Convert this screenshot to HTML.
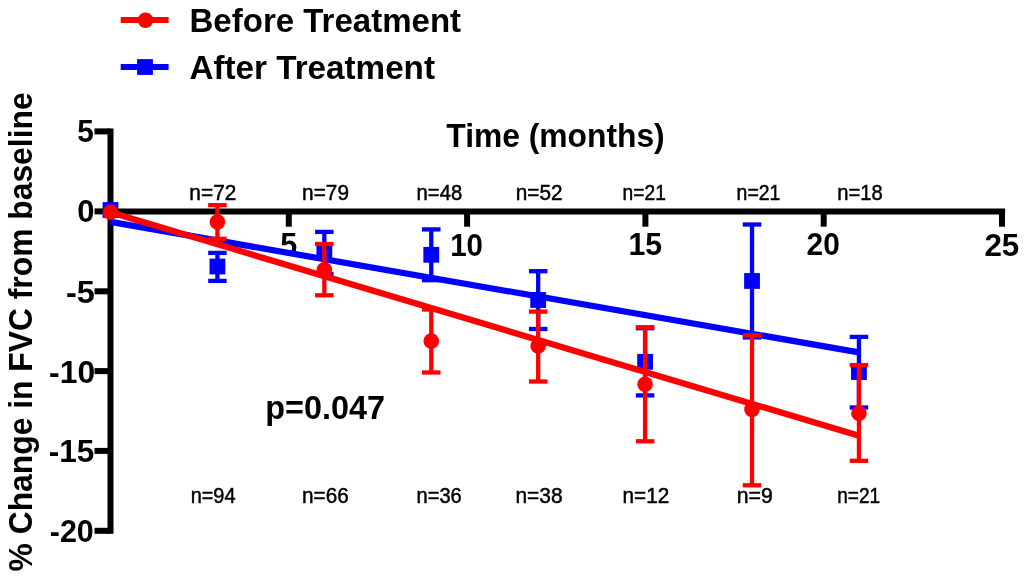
<!DOCTYPE html><html><head><meta charset="utf-8"><style>html,body{margin:0;padding:0;background:#fff;}svg{display:block;}</style></head><body>
<svg width="1024" height="580" viewBox="0 0 1024 580">
<rect width="1024" height="580" fill="#fff"/>
<line x1="120.7" y1="20" x2="168.6" y2="20" stroke="#ff0000" stroke-width="6"/>
<circle cx="145.5" cy="20.2" r="7.8" fill="#ff0000"/>
<line x1="120.7" y1="67.1" x2="168.6" y2="67.1" stroke="#0000ff" stroke-width="6"/>
<rect x="137.1" y="59.1" width="15.8" height="15.8" fill="#0000ff"/>
<line x1="110.5" y1="128.4" x2="110.5" y2="533.8" stroke="#000" stroke-width="6"/>
<line x1="94.5" y1="131.4" x2="110.5" y2="131.4" stroke="#000" stroke-width="6"/>
<line x1="94.5" y1="211.4" x2="110.5" y2="211.4" stroke="#000" stroke-width="6"/>
<line x1="94.5" y1="291.3" x2="110.5" y2="291.3" stroke="#000" stroke-width="6"/>
<line x1="94.5" y1="371.1" x2="110.5" y2="371.1" stroke="#000" stroke-width="6"/>
<line x1="94.5" y1="450.9" x2="110.5" y2="450.9" stroke="#000" stroke-width="6"/>
<line x1="94.5" y1="530.8" x2="110.5" y2="530.8" stroke="#000" stroke-width="6"/>
<text x="189.53" y="31.94" style="font-family:'Liberation Sans',Arial,Helvetica,sans-serif;font-size:33.2px;font-weight:bold;" textLength="271.56" lengthAdjust="spacingAndGlyphs">Before Treatment</text>
<text x="189.49" y="78.70" style="font-family:'Liberation Sans',Arial,Helvetica,sans-serif;font-size:33.2px;font-weight:bold;" textLength="245.48" lengthAdjust="spacingAndGlyphs">After Treatment</text>
<text x="446.34" y="146.70" style="font-family:'Liberation Sans',Arial,Helvetica,sans-serif;font-size:33.2px;font-weight:bold;" textLength="218.38" lengthAdjust="spacingAndGlyphs">Time (months)</text>
<text x="265.26" y="418.70" style="font-family:'Liberation Sans',Arial,Helvetica,sans-serif;font-size:32.5px;font-weight:bold;" textLength="119.81" lengthAdjust="spacingAndGlyphs">p=0.047</text>
<text x="189.35" y="200.00" style="font-family:'Liberation Sans',Arial,Helvetica,sans-serif;font-size:22.8px;" textLength="47.02" lengthAdjust="spacingAndGlyphs" stroke="#000" stroke-width="0.5">n=72</text>
<text x="190.66" y="503.00" style="font-family:'Liberation Sans',Arial,Helvetica,sans-serif;font-size:22.8px;" textLength="44.83" lengthAdjust="spacingAndGlyphs" stroke="#000" stroke-width="0.5">n=94</text>
<text x="302.12" y="200.00" style="font-family:'Liberation Sans',Arial,Helvetica,sans-serif;font-size:22.8px;" textLength="46.84" lengthAdjust="spacingAndGlyphs" stroke="#000" stroke-width="0.5">n=79</text>
<text x="302.09" y="503.00" style="font-family:'Liberation Sans',Arial,Helvetica,sans-serif;font-size:22.8px;" textLength="46.61" lengthAdjust="spacingAndGlyphs" stroke="#000" stroke-width="0.5">n=66</text>
<text x="416.60" y="200.00" style="font-family:'Liberation Sans',Arial,Helvetica,sans-serif;font-size:22.8px;" textLength="45.58" lengthAdjust="spacingAndGlyphs" stroke="#000" stroke-width="0.5">n=48</text>
<text x="416.57" y="503.00" style="font-family:'Liberation Sans',Arial,Helvetica,sans-serif;font-size:22.8px;" textLength="45.21" lengthAdjust="spacingAndGlyphs" stroke="#000" stroke-width="0.5">n=36</text>
<text x="515.83" y="200.00" style="font-family:'Liberation Sans',Arial,Helvetica,sans-serif;font-size:22.8px;" textLength="46.75" lengthAdjust="spacingAndGlyphs" stroke="#000" stroke-width="0.5">n=52</text>
<text x="515.41" y="503.00" style="font-family:'Liberation Sans',Arial,Helvetica,sans-serif;font-size:22.8px;" textLength="47.15" lengthAdjust="spacingAndGlyphs" stroke="#000" stroke-width="0.5">n=38</text>
<text x="622.62" y="200.00" style="font-family:'Liberation Sans',Arial,Helvetica,sans-serif;font-size:22.8px;" textLength="43.24" lengthAdjust="spacingAndGlyphs" stroke="#000" stroke-width="0.5">n=21</text>
<text x="622.61" y="503.00" style="font-family:'Liberation Sans',Arial,Helvetica,sans-serif;font-size:22.8px;" textLength="46.54" lengthAdjust="spacingAndGlyphs" stroke="#000" stroke-width="0.5">n=12</text>
<text x="736.62" y="200.00" style="font-family:'Liberation Sans',Arial,Helvetica,sans-serif;font-size:22.8px;" textLength="43.79" lengthAdjust="spacingAndGlyphs" stroke="#000" stroke-width="0.5">n=21</text>
<text x="736.69" y="503.00" style="font-family:'Liberation Sans',Arial,Helvetica,sans-serif;font-size:22.8px;" textLength="36.07" lengthAdjust="spacingAndGlyphs" stroke="#000" stroke-width="0.5">n=9</text>
<text x="837.18" y="200.00" style="font-family:'Liberation Sans',Arial,Helvetica,sans-serif;font-size:22.8px;" textLength="45.46" lengthAdjust="spacingAndGlyphs" stroke="#000" stroke-width="0.5">n=18</text>
<text x="837.22" y="503.00" style="font-family:'Liberation Sans',Arial,Helvetica,sans-serif;font-size:22.8px;" textLength="42.88" lengthAdjust="spacingAndGlyphs" stroke="#000" stroke-width="0.5">n=21</text>
<text x="77.34" y="142.29" style="font-family:'Liberation Sans',Arial,Helvetica,sans-serif;font-size:31.4px;font-weight:bold;" textLength="16.56" lengthAdjust="spacingAndGlyphs">5</text>
<text x="77.19" y="222.08" style="font-family:'Liberation Sans',Arial,Helvetica,sans-serif;font-size:31.4px;font-weight:bold;" textLength="17.24" lengthAdjust="spacingAndGlyphs">0</text>
<text x="66.07" y="302.94" style="font-family:'Liberation Sans',Arial,Helvetica,sans-serif;font-size:31.4px;font-weight:bold;" textLength="28.88" lengthAdjust="spacingAndGlyphs">-5</text>
<text x="49.14" y="383.10" style="font-family:'Liberation Sans',Arial,Helvetica,sans-serif;font-size:31.4px;font-weight:bold;" textLength="46.07" lengthAdjust="spacingAndGlyphs">-10</text>
<text x="48.72" y="461.90" style="font-family:'Liberation Sans',Arial,Helvetica,sans-serif;font-size:31.4px;font-weight:bold;" textLength="45.64" lengthAdjust="spacingAndGlyphs">-15</text>
<text x="49.78" y="542.27" style="font-family:'Liberation Sans',Arial,Helvetica,sans-serif;font-size:31.4px;font-weight:bold;" textLength="44.05" lengthAdjust="spacingAndGlyphs">-20</text>
<text x="280.32" y="255.22" style="font-family:'Liberation Sans',Arial,Helvetica,sans-serif;font-size:31.4px;font-weight:bold;" textLength="17.03" lengthAdjust="spacingAndGlyphs">5</text>
<text x="450.15" y="255.80" style="font-family:'Liberation Sans',Arial,Helvetica,sans-serif;font-size:31.4px;font-weight:bold;" textLength="32.82" lengthAdjust="spacingAndGlyphs">10</text>
<text x="628.52" y="254.80" style="font-family:'Liberation Sans',Arial,Helvetica,sans-serif;font-size:31.4px;font-weight:bold;" textLength="33.63" lengthAdjust="spacingAndGlyphs">15</text>
<text x="806.55" y="255.26" style="font-family:'Liberation Sans',Arial,Helvetica,sans-serif;font-size:31.4px;font-weight:bold;" textLength="33.19" lengthAdjust="spacingAndGlyphs">20</text>
<text x="984.41" y="255.80" style="font-family:'Liberation Sans',Arial,Helvetica,sans-serif;font-size:31.4px;font-weight:bold;" textLength="34.92" lengthAdjust="spacingAndGlyphs">25</text>
<line x1="217.42" y1="252.9" x2="217.42" y2="280.9" stroke="#0000ff" stroke-width="4.3"/>
<line x1="208.17" y1="252.9" x2="226.67" y2="252.9" stroke="#0000ff" stroke-width="4.3"/>
<line x1="208.17" y1="280.9" x2="226.67" y2="280.9" stroke="#0000ff" stroke-width="4.3"/>
<line x1="324.34" y1="231.9" x2="324.34" y2="274" stroke="#0000ff" stroke-width="4.3"/>
<line x1="315.09" y1="231.9" x2="333.59" y2="231.9" stroke="#0000ff" stroke-width="4.3"/>
<line x1="315.09" y1="274" x2="333.59" y2="274" stroke="#0000ff" stroke-width="4.3"/>
<line x1="431.26" y1="229.4" x2="431.26" y2="280.2" stroke="#0000ff" stroke-width="4.3"/>
<line x1="422.01" y1="229.4" x2="440.51" y2="229.4" stroke="#0000ff" stroke-width="4.3"/>
<line x1="422.01" y1="280.2" x2="440.51" y2="280.2" stroke="#0000ff" stroke-width="4.3"/>
<line x1="538.18" y1="271.2" x2="538.18" y2="329" stroke="#0000ff" stroke-width="4.3"/>
<line x1="528.93" y1="271.2" x2="547.43" y2="271.2" stroke="#0000ff" stroke-width="4.3"/>
<line x1="528.93" y1="329" x2="547.43" y2="329" stroke="#0000ff" stroke-width="4.3"/>
<line x1="645.10" y1="328.2" x2="645.10" y2="395.4" stroke="#0000ff" stroke-width="4.3"/>
<line x1="635.85" y1="328.2" x2="654.35" y2="328.2" stroke="#0000ff" stroke-width="4.3"/>
<line x1="635.85" y1="395.4" x2="654.35" y2="395.4" stroke="#0000ff" stroke-width="4.3"/>
<line x1="752.02" y1="224.5" x2="752.02" y2="337.5" stroke="#0000ff" stroke-width="4.3"/>
<line x1="742.77" y1="224.5" x2="761.27" y2="224.5" stroke="#0000ff" stroke-width="4.3"/>
<line x1="742.77" y1="337.5" x2="761.27" y2="337.5" stroke="#0000ff" stroke-width="4.3"/>
<line x1="858.94" y1="336.9" x2="858.94" y2="407.5" stroke="#0000ff" stroke-width="4.3"/>
<line x1="849.69" y1="336.9" x2="868.19" y2="336.9" stroke="#0000ff" stroke-width="4.3"/>
<line x1="849.69" y1="407.5" x2="868.19" y2="407.5" stroke="#0000ff" stroke-width="4.3"/>
<rect x="102.60" y="202.10" width="15.8" height="15.8" fill="#0000ff"/>
<rect x="209.52" y="258.60" width="15.8" height="15.8" fill="#0000ff"/>
<rect x="316.44" y="245.10" width="15.8" height="15.8" fill="#0000ff"/>
<rect x="423.36" y="246.90" width="15.8" height="15.8" fill="#0000ff"/>
<rect x="530.28" y="292.10" width="15.8" height="15.8" fill="#0000ff"/>
<rect x="637.20" y="353.90" width="15.8" height="15.8" fill="#0000ff"/>
<rect x="744.12" y="273.10" width="15.8" height="15.8" fill="#0000ff"/>
<rect x="851.04" y="364.10" width="15.8" height="15.8" fill="#0000ff"/>
<line x1="110.5" y1="221.9" x2="858.94" y2="352.38" stroke="#0000ff" stroke-width="6.2"/>
<line x1="107.5" y1="211.5" x2="1005.1" y2="211.5" stroke="#000" stroke-width="6"/>
<line x1="288.80" y1="211.5" x2="288.80" y2="226.7" stroke="#000" stroke-width="6"/>
<line x1="467.10" y1="211.5" x2="467.10" y2="226.7" stroke="#000" stroke-width="6"/>
<line x1="645.40" y1="211.5" x2="645.40" y2="226.7" stroke="#000" stroke-width="6"/>
<line x1="823.70" y1="211.5" x2="823.70" y2="226.7" stroke="#000" stroke-width="6"/>
<line x1="1002.00" y1="211.5" x2="1002.00" y2="226.7" stroke="#000" stroke-width="6"/>
<line x1="217.42" y1="205.2" x2="217.42" y2="238.8" stroke="#ff0000" stroke-width="4.3"/>
<line x1="208.17" y1="205.2" x2="226.67" y2="205.2" stroke="#ff0000" stroke-width="4.3"/>
<line x1="208.17" y1="238.8" x2="226.67" y2="238.8" stroke="#ff0000" stroke-width="4.3"/>
<line x1="324.34" y1="244" x2="324.34" y2="295.3" stroke="#ff0000" stroke-width="4.3"/>
<line x1="315.09" y1="244" x2="333.59" y2="244" stroke="#ff0000" stroke-width="4.3"/>
<line x1="315.09" y1="295.3" x2="333.59" y2="295.3" stroke="#ff0000" stroke-width="4.3"/>
<line x1="431.26" y1="309.5" x2="431.26" y2="372.5" stroke="#ff0000" stroke-width="4.3"/>
<line x1="422.01" y1="309.5" x2="440.51" y2="309.5" stroke="#ff0000" stroke-width="4.3"/>
<line x1="422.01" y1="372.5" x2="440.51" y2="372.5" stroke="#ff0000" stroke-width="4.3"/>
<line x1="538.18" y1="311.6" x2="538.18" y2="381.5" stroke="#ff0000" stroke-width="4.3"/>
<line x1="528.93" y1="311.6" x2="547.43" y2="311.6" stroke="#ff0000" stroke-width="4.3"/>
<line x1="528.93" y1="381.5" x2="547.43" y2="381.5" stroke="#ff0000" stroke-width="4.3"/>
<line x1="645.10" y1="327.2" x2="645.10" y2="441.3" stroke="#ff0000" stroke-width="4.3"/>
<line x1="635.85" y1="327.2" x2="654.35" y2="327.2" stroke="#ff0000" stroke-width="4.3"/>
<line x1="635.85" y1="441.3" x2="654.35" y2="441.3" stroke="#ff0000" stroke-width="4.3"/>
<line x1="752.02" y1="335.3" x2="752.02" y2="485.3" stroke="#ff0000" stroke-width="4.3"/>
<line x1="742.77" y1="335.3" x2="761.27" y2="335.3" stroke="#ff0000" stroke-width="4.3"/>
<line x1="742.77" y1="485.3" x2="761.27" y2="485.3" stroke="#ff0000" stroke-width="4.3"/>
<line x1="858.94" y1="365.1" x2="858.94" y2="460.8" stroke="#ff0000" stroke-width="4.3"/>
<line x1="849.69" y1="365.1" x2="868.19" y2="365.1" stroke="#ff0000" stroke-width="4.3"/>
<line x1="849.69" y1="460.8" x2="868.19" y2="460.8" stroke="#ff0000" stroke-width="4.3"/>
<circle cx="110.50" cy="212.2" r="7.8" fill="#ff0000"/>
<circle cx="217.42" cy="222" r="7.8" fill="#ff0000"/>
<circle cx="324.34" cy="269.8" r="7.8" fill="#ff0000"/>
<circle cx="431.26" cy="341.1" r="7.8" fill="#ff0000"/>
<circle cx="538.18" cy="346" r="7.8" fill="#ff0000"/>
<circle cx="645.10" cy="384.3" r="7.8" fill="#ff0000"/>
<circle cx="752.02" cy="409.5" r="7.8" fill="#ff0000"/>
<circle cx="858.94" cy="413.3" r="7.8" fill="#ff0000"/>
<line x1="110.5" y1="212.3" x2="858.94" y2="435.75" stroke="#ff0000" stroke-width="6.2"/>
<text transform="translate(32,571.4) rotate(-90)" style="font-family:'Liberation Sans',Arial,Helvetica,sans-serif;font-weight:bold;font-size:33px" textLength="479" lengthAdjust="spacingAndGlyphs">% Change in FVC from baseline</text>
</svg></body></html>
